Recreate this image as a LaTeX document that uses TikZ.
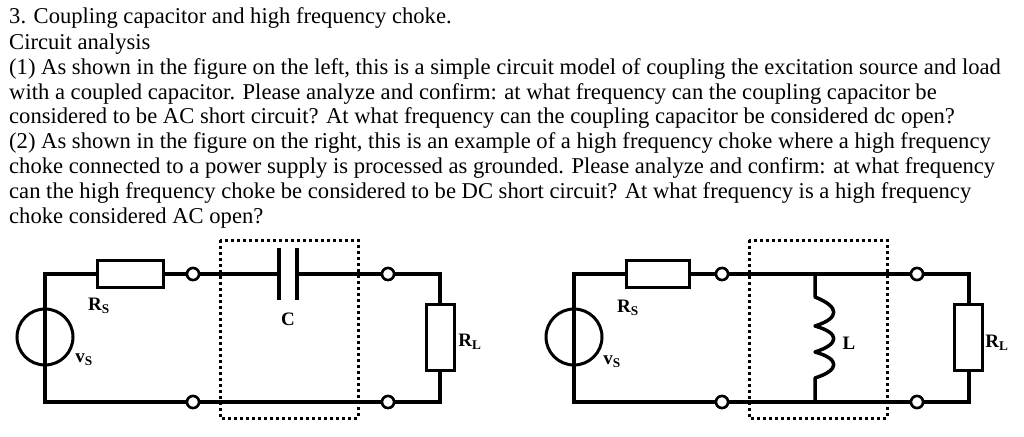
\documentclass[tikz,border=0pt]{standalone}
\usepackage{fontspec}
\setmainfont{Liberation Serif}
\begin{document}
\begin{tikzpicture}[x=1pt,y=-1pt,
  w/.style={line width=3.5pt},
  res/.style={draw,line width=3pt,fill=white},
  term/.style={circle,draw,line width=2.5pt,fill=white,minimum size=12pt,inner sep=0pt},
  box/.style={line width=3pt,dash pattern=on 3pt off 3pt},
  lab/.style={font=\fontsize{19}{19}\selectfont\bfseries,inner sep=0pt},
  txt/.style={anchor=west,font=\fontsize{22.6}{23}\selectfont,inner sep=0pt}]
\useasboundingbox (0,0) rectangle (1024,436);
\node[txt] (t1) at (9,18) {3. Coupling capacitor and high frequency choke.};
\node[txt] (t2) at (9,44) {Circuit analysis};
\node[txt] (t3) at (9,69) {(1) As shown in the figure on the left, this is a simple circuit model of coupling the excitation source and load};
\node[txt] (t4) at (9,94) {with a coupled capacitor. Please analyze and confirm: at what frequency can the coupling capacitor be};
\node[txt] (t5) at (9,118) {considered to be AC short circuit? At what frequency can the coupling capacitor be considered dc open?};
\node[txt] (t6) at (9,143) {(2) As shown in the figure on the right, this is an example of a high frequency choke where a high frequency};
\node[txt] (t7) at (9,168) {choke connected to a power supply is processed as grounded. Please analyze and confirm: at what frequency};
\node[txt] (t8) at (9,193) {can the high frequency choke be considered to be DC short circuit? At what frequency is a high frequency};
\node[txt] (t9) at (9,218) {choke considered AC open?};
% ---------- left circuit
\coordinate (a1) at (45,274); \coordinate (a2) at (45,402);
\coordinate (a3) at (440,274); \coordinate (a4) at (440,402);
\node[term] (p1) at (193,274) {}; \node[term] (p2) at (193,402) {};
\node[term] (p3) at (388,274) {}; \node[term] (p4) at (388,402) {};
\coordinate (c1) at (279,274); \coordinate (c2) at (297,274);
\draw[w] (p1) -- (c1) (c2) -- (p3);
\draw[w] (p3) -- (a3) -- (a4) -- (p4) -- (p2) -- (a2) -- (a1) -- (p1);
\draw[w] (279,248) -- (279,300) (297,248) -- (297,300);
\node[res,minimum width=66pt,minimum height=27pt] (rs1) at (130,274) {};
\node[res,minimum width=28pt,minimum height=66pt] (rl1) at (440,337) {};
\node[circle,draw,line width=3pt,minimum size=56pt] (v1) at (45,337) {};
\draw[w] (v1.north) -- (v1.south);
\node[term] at (193,274) {}; \node[term] at (193,402) {};
\node[term] at (388,274) {}; \node[term] at (388,402) {};
\draw[box] (220,240) rectangle (358,418);
\node[lab] (lrs1) at (99,306) {R\textsubscript{S}};
\node[lab] (lv1) at (84,360) {v\textsubscript{S}};
\node[lab] (lc) at (288,319) {C};
\node[lab] (lrl1) at (470,342) {R\textsubscript{L}};
% ---------- right circuit
\coordinate (b1) at (574,274); \coordinate (b2) at (574,402);
\coordinate (b3) at (969,274); \coordinate (b4) at (969,402);
\node[term] (q1) at (722,274) {}; \node[term] (q2) at (722,402) {};
\node[term] (q3) at (917,274) {}; \node[term] (q4) at (917,402) {};
\coordinate (l1) at (815,274); \coordinate (l2) at (815,402);
\draw[w] (q1) -- (q3) -- (b3) -- (b4) -- (q4) -- (q2) -- (b2) -- (b1) -- (q1);
\draw[w,line join=round] (l1) -- (815,297)
  .. controls (840,307) and (840,318) .. (815,326)
  .. controls (840,333) and (840,344) .. (815,352)
  .. controls (840,359) and (840,370) .. (815,378) -- (l2);
\node[res,minimum width=63pt,minimum height=27pt] (rs2) at (658,274) {};
\node[res,minimum width=28pt,minimum height=66pt] (rl2) at (968,337) {};
\node[circle,draw,line width=3pt,minimum size=56pt] (v2) at (574,337) {};
\draw[w] (v2.north) -- (v2.south);
\node[term] at (722,274) {}; \node[term] at (722,402) {};
\node[term] at (917,274) {}; \node[term] at (917,402) {};
\draw[box] (749,240) rectangle (887,418);
\node[lab] (lrs2) at (628,308) {R\textsubscript{S}};
\node[lab] (lv2) at (612,362) {v\textsubscript{S}};
\node[lab] (ll) at (849,343) {L};
\node[lab] (lrl2) at (997,343) {R\textsubscript{L}};
\end{tikzpicture}
\end{document}
